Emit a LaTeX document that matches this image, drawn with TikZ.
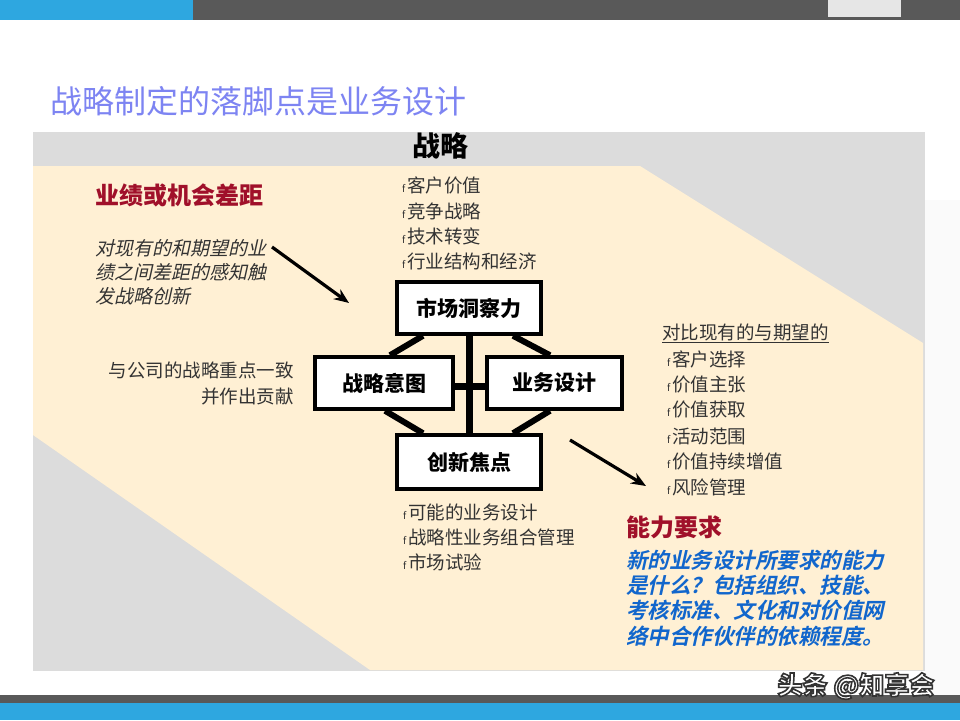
\documentclass[tikz,border=0pt]{standalone}
\usepackage{fontspec}
\setmainfont{Noto Sans CJK SC}[
  ItalicFont={Noto Sans CJK SC},
  ItalicFeatures={FakeSlant=0.22},
  BoldItalicFont={Noto Sans CJK SC Bold},
  BoldItalicFeatures={FakeSlant=0.22}]
\usepackage{xcolor}
\usetikzlibrary{arrows.meta,
                calc,
                positioning}

\definecolor{topblue}{HTML}{2EA7E0}
\definecolor{bardark}{HTML}{595959}
\definecolor{tabgray}{HTML}{E6E6E6}
\definecolor{panelgray}{HTML}{DCDCDC}
\definecolor{cream}{HTML}{FFF0D4}
\definecolor{titleblue}{HTML}{7D84F2}
\definecolor{headred}{HTML}{A0102A}
\definecolor{noteblue}{HTML}{1166CC}
\definecolor{textgray}{HTML}{333333}

\newcommand{\fsz}[2]{\fontsize{#1}{#2}\selectfont}
\newcommand{\bul}{{\fsz{10}{10}f}\hspace{2pt}}
% white letters with a dark rim
\newcommand{\rimtext}[1]{\special{pdf:code q 2 Tr 1.6 w 0.2 0.2 0.2 RG}#1\special{pdf:code Q}}

\tikzset{
  box/.style={draw,line width=3.5pt,fill=white,minimum height=52,
              inner sep=0pt,font=\bfseries\fsz{21}{21}},
  link/.style={line width=6pt},
  bar/.style={line width=7pt},
  pointer/.style={line width=3.2pt,-{Stealth[length=15pt,width=12pt]}},
  item/.style={anchor=west,inner sep=0pt,font=\fsz{18.5}{18.5},text=textgray},
  head/.style={anchor=west,inner sep=0pt,font=\bfseries\fsz{24}{24},text=headred},
  wmark/.style={inner sep=0pt,font=\bfseries\fsz{25}{25}}
}

\begin{document}
\begin{tikzpicture}[x=1pt,y=-1pt]
\useasboundingbox (0,0) rectangle (960,720);

% frame bars
\fill[topblue] (0,0) rectangle (193,20);
\fill[bardark] (193,0) rectangle (960,20);
\fill[tabgray] (828,0) rectangle (901,17);
\fill[bardark] (0,695) rectangle (960,703);
\fill[topblue] (0,703) rectangle (960,720);
\fill[black!2] (925,200) rectangle (960,695);

% title
\node[anchor=west,inner sep=0pt,font=\fsz{32}{32},text=titleblue] (title) at (50,101)
  {战略制定的落脚点是业务设计};

% background panel
\fill[panelgray] (33,132) rectangle (925,671);
\fill[cream] (33,166) -- (640,166) -- (923,343) -- (923,670)
  -- (370,670) -- (33,435) -- cycle;

\node[inner sep=0pt,font=\bfseries\fsz{28}{28}] (strat) at (440,146) {战略};

% top list
\foreach \y/\t in {185/客户价值,211/竞争战略,236/技术转变,261/行业结构和经济}
  \node[item] at (402,\y) {\bul\t};

% boxes
\node[box,minimum width=144] (mkt) at (469,308) {市场洞察力};
\node[box,minimum width=138] (intent) at (384,383) {战略意图};
\node[box,minimum width=135] (design) at (554.5,383) {业务设计};
\node[box,minimum width=144,minimum height=54] (innov) at (469,462) {创新焦点};

% links between boxes
\draw[link] ($(mkt.south)+(-46,0)$) -- ($(intent.north)+(6,0)$);
\draw[link] ($(mkt.south)+(44,0)$) -- ($(design.north)+(-4.5,0)$);
\draw[link] ($(intent.south)+(1,0)$) -- ($(innov.north)+(-46,0)$);
\draw[link] ($(design.south)+(-4.5,0)$) -- ($(innov.north)+(44,0)$);
\draw[bar] (mkt.south) -- (innov.north);
\draw[bar] ($(intent.east)+(0,3)$) -- ($(design.west)+(0,3)$);

% left side
\node[head] (gap) at (95,195) {业绩或机会差距};
\node[anchor=west,align=left,inner sep=0pt,font=\itshape\fsz{19}{24},
      text=textgray] (gapnote) at (95,272)
  {对现有的和期望的业\\绩之间差距的感知触\\发战略创新};
\coordinate (gapfrom) at (272,247);
\coordinate (gapto) at (349,303);
\draw[pointer] (gapfrom) -- (gapto);

\node[anchor=east,align=right,inner sep=0pt,font=\fsz{18.5}{26},
      text=textgray] (focus) at (294,383)
  {与公司的战略重点一致\\并作出贡献};

% bottom list
\foreach \y/\t in {512/可能的业务设计,537/战略性业务组合管理,562/市场试验}
  \node[item] at (403,\y) {\bul\t};

% right list
\node[item] (cmp) at (662,333) {\underline{对比现有的与期望的}};
\foreach \y/\t in {359/客户选择,385/价值主张,410/价值获取,436/活动范围,462/价值持续增值,487/风险管理}
  \node[item] at (667,\y) {\bul\t};
\coordinate (capfrom) at (570,440);
\coordinate (capto) at (646,486);
\draw[pointer] (capfrom) -- (capto);

\node[head] (cap) at (626,527) {能力要求};
\node[anchor=west,align=left,inner sep=0pt,font=\bfseries\itshape\fsz{21.5}{25.3},
      text=noteblue] (capnote) at (626,598)
  {新的业务设计所要求的能力\\是什么？包括组织、技能、\\考核标准、文化和对价值网\\络中合作伙伴的依赖程度。};

% watermark
\node[wmark,text=white] (mark) at (856,686) {\rimtext{头条 @知享会}};
\end{tikzpicture}
\end{document}
